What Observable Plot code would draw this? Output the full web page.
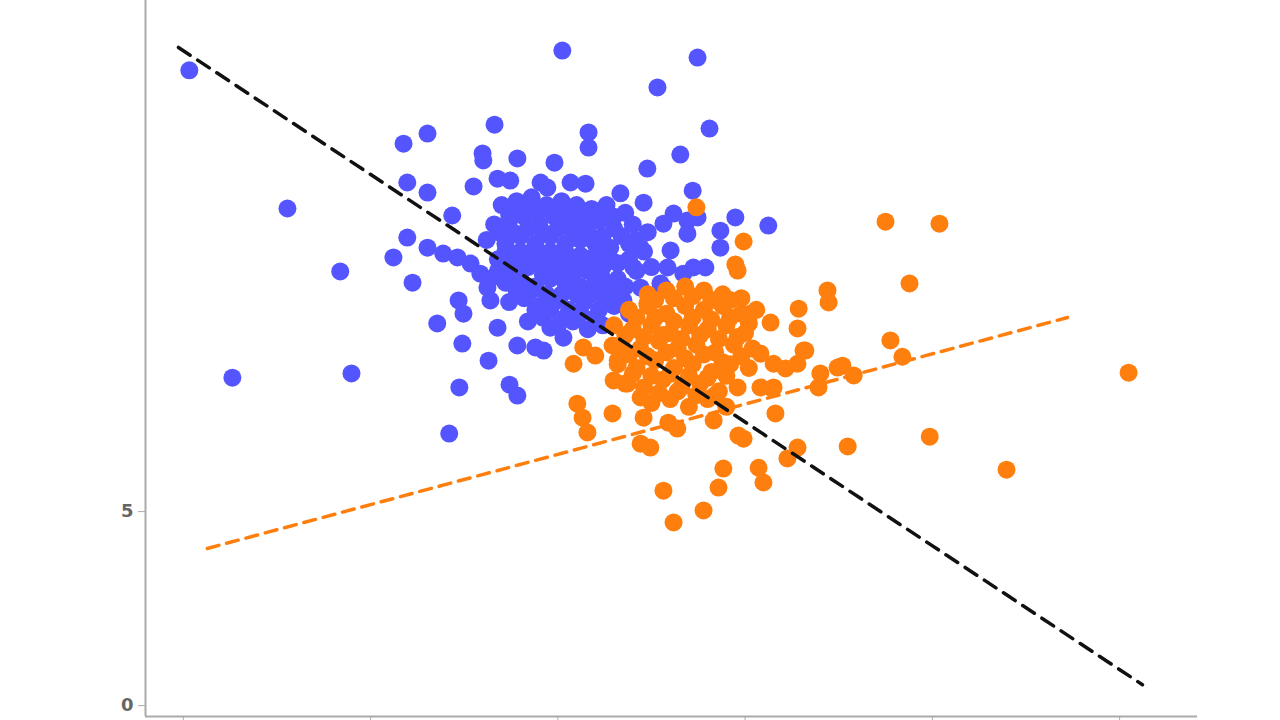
<!DOCTYPE html>
<html><head><meta charset="utf-8">
<script src="https://cdn.jsdelivr.net/npm/d3@7"></script>
<script src="https://cdn.jsdelivr.net/npm/@observablehq/plot@0.6"></script>
<style>html,body{margin:0;padding:0;background:#fff;overflow:hidden}</style>
</head><body><div id="chart"></div><script>
const xTicks = [0, 5, 10, 15, 20, 25];
const yTicks = [0, 5];

const bluePoints = [
 [0.16,16.37],[2.78,12.81],[4.19,11.19],[1.31,8.45],[4.49,8.56],[10.12,16.88],[13.73,16.70],[12.66,15.93],
 [14.05,14.87],[5.88,14.48],[6.52,14.74],[8.31,14.97],[7.99,14.23],[8.01,14.05],[8.92,14.10],[9.91,13.99],
 [10.82,14.77],[10.82,14.38],[13.27,14.20],[12.39,13.84],[5.98,13.48],[6.52,13.22],[7.75,13.38],[8.39,13.58],
 [8.73,13.53],[9.54,13.48],[9.72,13.35],[10.34,13.48],[10.74,13.45],[11.67,13.20],[12.29,12.96],[13.60,13.27],
 [14.74,12.58],[15.62,12.37],[14.34,12.24],[14.34,11.80],[13.62,11.29],[13.94,11.29],[12.82,12.42],[13.09,12.68],
 [13.46,12.50],[13.46,12.16],[13.73,12.58],[13.01,11.73],[12.93,11.29],[12.74,10.88],[12.21,11.80],[12.02,11.29],
 [12.21,10.77],[7.18,12.63],[5.61,11.55],[5.98,12.06],[6.52,11.80],[6.12,10.90],[7.35,10.44],[7.48,10.10],
 [6.78,9.85],[7.45,9.33],[7.37,8.20],[7.10,7.01],[6.94,11.65],[7.32,11.55],[7.67,11.39],[7.93,11.13],
 [8.12,10.77],[8.20,10.44],[8.39,9.74],[8.15,8.89],[8.71,8.27],[8.92,7.99],[8.92,9.28],[9.40,9.23],
 [9.80,9.74],[10.15,9.48],[9.62,9.15],[10.60,10.10],[11.22,10.70],[11.75,10.44],[12.82,10.77],[13.35,11.13],
 [8.5,12.9],[8.9,13.0],[9.3,13.1],[9.7,12.9],[10.1,13.0],[10.5,12.9],[10.9,12.8],[11.3,12.9],[11.8,12.7],
 [8.3,12.4],[8.7,12.5],[9.1,12.6],[9.5,12.4],[9.9,12.6],[10.3,12.5],[10.7,12.4],[11.1,12.5],[11.5,12.3],[12.0,12.4],[12.4,12.2],
 [8.1,12.0],[8.6,11.9],[9.0,12.1],[9.4,11.9],[9.8,12.1],[10.2,11.9],[10.6,12.0],[11.0,11.9],[11.4,11.8],[11.9,11.9],[12.3,11.7],
 [8.4,11.5],[8.8,11.4],[9.2,11.6],[9.6,11.4],[10.0,11.5],[10.4,11.4],[10.8,11.5],[11.2,11.3],[11.6,11.4],[12.1,11.2],[12.5,11.3],
 [8.2,11.0],[8.6,10.9],[9.0,11.0],[9.4,10.8],[9.8,11.0],[10.2,10.9],[10.6,10.8],[11.0,10.9],[11.4,10.7],[11.8,10.8],
 [8.7,10.4],[9.1,10.5],[9.5,10.3],[9.9,10.4],[10.3,10.2],[10.7,10.4],[11.1,10.2],[11.5,10.3],[11.9,10.1],
 [9.2,9.9],[9.6,10.0],[10.0,9.8],[10.4,9.9],[10.8,9.7],[11.2,9.8],
 [8.7,12.65],[9.1,12.85],[9.5,12.75],[9.9,12.8],[10.3,12.75],[10.7,12.7],[11.1,12.7],[11.5,12.6],
 [8.4,12.2],[8.8,12.2],[9.2,12.3],[9.6,12.2],[10.0,12.3],[10.4,12.2],[10.8,12.2],[11.2,12.1],[11.7,12.1],[12.1,12.0],
 [8.6,11.7],[9.0,11.7],[9.4,11.6],[9.8,11.7],[10.2,11.7],[10.6,11.6],[11.0,11.6],[11.4,11.5],[11.9,11.5],
 [8.4,11.2],[8.8,11.2],[9.2,11.3],[9.6,11.1],[10.0,11.2],[10.4,11.1],[10.8,11.2],[11.2,11.0],[11.6,11.0],
 [8.9,10.7],[9.3,10.7],[9.7,10.6],[10.1,10.6],[10.5,10.6],[10.9,10.6],[11.3,10.4],
 [9.4,10.2],[9.8,10.2],[10.2,10.0],[10.6,10.1],[11.0,10.0]
];

const orangePoints = [
 [13.70,12.84],[14.96,11.96],[14.74,11.37],[14.80,11.21],
 [17.20,10.70],[17.23,10.39],[16.43,10.23],[16.40,9.72],[15.68,9.87],[15.14,10.10],
 [10.68,9.23],[11.00,9.02],[10.42,8.81],[11.46,9.28],
 [16.56,9.15],[17.01,8.56],[16.96,8.20],[17.47,8.71],[15.76,8.20],[15.81,7.53],
 [10.52,7.78],[10.66,7.42],[10.79,7.04],[11.46,7.53],[12.29,7.42],[12.21,6.75],[12.47,6.65],[12.95,7.29],
 [13.19,7.14],[14.16,7.35],[14.82,6.96],[14.96,6.88],[16.40,6.65],[16.13,6.37],[14.42,6.11],[15.36,6.13],
 [15.49,5.75],[14.29,5.62],[12.82,5.54],[13.89,5.03],[13.09,4.72],
 [18.75,12.47],[20.19,12.42],[19.39,10.88],
 [15.41,9.07],[15.76,8.81],[16.08,8.69],[16.40,8.81],[16.61,9.15],[17.60,8.76],[17.90,8.51],[18.88,9.41],
 [19.20,8.99],[25.24,8.58],[15.73,8.17],[15.41,8.20],[17.74,6.68],[19.93,6.93],[21.98,6.08],
 [12.39,10.36],[11.6,8.9],[11.86,8.3],[11.49,8.38],[12.21,7.94],
 [12.4,10.6],[12.9,10.7],[13.4,10.8],[13.9,10.7],[14.4,10.6],[14.9,10.5],
 [11.9,10.2],[12.4,10.3],[12.9,10.1],[13.4,10.3],[13.9,10.2],[14.4,10.3],[14.9,10.1],[15.3,10.2],
 [11.5,9.8],[12.0,9.7],[12.5,9.8],[13.0,9.6],[13.5,9.8],[14.0,9.7],[14.5,9.8],[15.0,9.6],
 [11.7,9.3],[12.2,9.2],[12.7,9.4],[13.2,9.2],[13.7,9.3],[14.2,9.1],[14.7,9.3],[15.2,9.2],
 [11.6,8.8],[12.1,8.7],[12.6,8.9],[13.1,8.7],[13.6,8.8],[14.1,8.6],[14.6,8.8],[15.1,8.7],
 [11.8,8.3],[12.3,8.2],[12.8,8.4],[13.3,8.2],[13.8,8.3],[14.3,8.1],[14.8,8.2],
 [12.5,7.8],[13.0,7.9],[13.5,7.7],[14.0,7.9],[14.5,7.7],
 [12.6,10.45],[13.1,10.5],[13.6,10.55],[14.1,10.45],[14.6,10.45],
 [12.1,10.0],[12.6,10.0],[13.1,9.9],[13.6,10.0],[14.1,9.95],[14.6,10.0],[15.1,9.85],
 [11.8,9.55],[12.3,9.5],[12.8,9.55],[13.3,9.45],[13.8,9.55],[14.3,9.45],[14.8,9.5],
 [11.9,9.05],[12.4,9.0],[12.9,9.1],[13.4,8.95],[13.9,9.05],[14.4,8.85],[14.9,9.0],
 [12.0,8.55],[12.5,8.5],[13.0,8.55],[13.5,8.5],[14.0,8.45],[14.5,8.5],
 [12.7,8.05],[13.2,8.1],[13.7,8.0],[14.2,8.0]
];

const blackLine = [[-0.13,16.96],[25.61,0.54]];
const orangeLine = [[0.64,4.05],[23.61,10.0]];

const xDomain = [-1.01, 27.08];
const yDomain = [-0.28, 18.17];

const chart = Plot.plot({
  width: 1280,
  height: 756,
  marginLeft: 145,
  marginRight: 83,
  marginTop: 0,
  marginBottom: 40,
  style: {fontFamily: "'DejaVu Sans', sans-serif", fontSize: "18px", fontWeight: "bold", color: "#666", background: "#fff"},
  x: {domain: xDomain, label: null},
  y: {domain: yDomain, label: null},
  marks: [
    Plot.axisX({ticks: xTicks, tickSize: 6, stroke: "#aaa", color: "#666"}),
    Plot.axisY({ticks: yTicks, tickSize: 7, tickPadding: 5, stroke: "#aaa", color: "#666"}),
    Plot.ruleX([xDomain[0]], {stroke: "#aaa", strokeWidth: 2}),
    Plot.ruleY([yDomain[0]], {stroke: "#aaa", strokeWidth: 2}),
    Plot.dot(bluePoints, {x: d => d[0], y: d => d[1], r: 9, fill: "#5555ff"}),
    Plot.dot(orangePoints, {x: d => d[0], y: d => d[1], r: 9, fill: "#ff7f0e"}),
    Plot.line(orangeLine, {x: d => d[0], y: d => d[1], stroke: "#ff7f0e", strokeWidth: 3.5, strokeDasharray: "12,8"}),
    Plot.line(blackLine, {x: d => d[0], y: d => d[1], stroke: "#111", strokeWidth: 3.5, strokeDasharray: "14,9"})
  ]
});
document.getElementById("chart").appendChild(chart);
</script></body></html>
